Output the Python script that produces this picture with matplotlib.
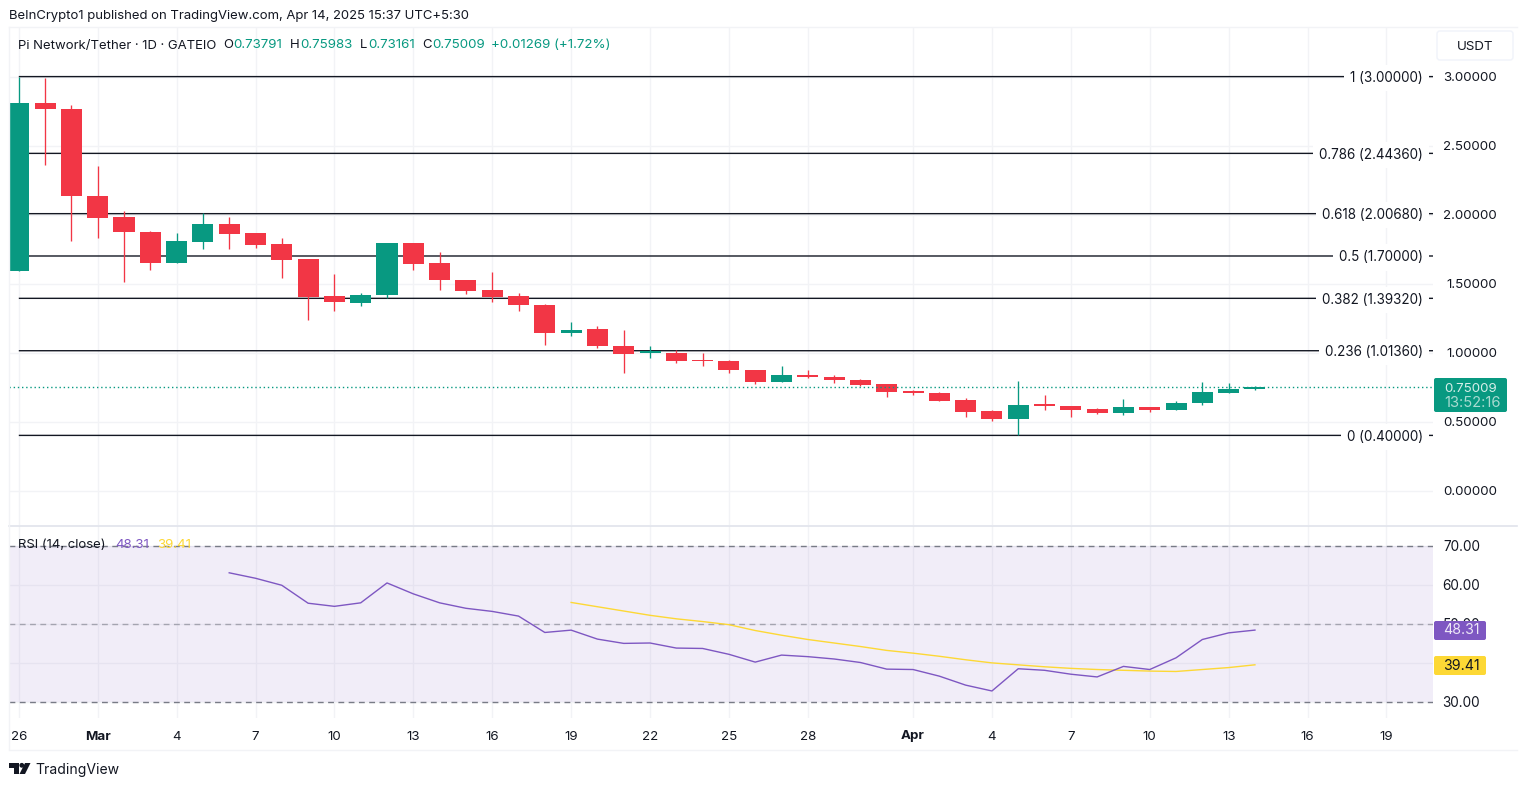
import matplotlib
matplotlib.use('Agg')
import matplotlib.pyplot as plt
from matplotlib.patches import FancyBboxPatch, Polygon, Circle

W, H = 1527, 785
GREEN = '#089981'
RED = '#F23645'
PURPLE = '#7E57C2'
YELLOW = '#FDD835'
INK = '#131722'
GRID = '#F2F3F6'

plt.rcParams['font.family'] = ['Inter', 'DejaVu Sans']

# daily candles, Feb 26 to Apr 14
opens = [1.593, 2.809, 2.765, 2.135, 1.980, 1.876, 1.651, 1.804, 1.932, 1.864, 1.785, 1.678,
         1.410, 1.359, 1.417, 1.791, 1.646, 1.526, 1.454, 1.410, 1.347, 1.140, 1.169, 1.050,
         0.997, 0.997, 0.949, 0.939, 0.874, 0.785, 0.838, 0.823, 0.801, 0.770, 0.720, 0.707,
         0.657, 0.577, 0.517, 0.625, 0.613, 0.589, 0.560, 0.606, 0.586, 0.633, 0.709, 0.73791]
highs = [3.000, 2.990, 2.794, 2.352, 2.026, 1.881, 1.864, 2.009, 1.980, 1.864, 1.828, 1.678,
         1.570, 1.432, 1.797, 1.791, 1.729, 1.526, 1.584, 1.432, 1.352, 1.220, 1.195, 1.164,
         1.048, 1.019, 0.997, 0.946, 0.874, 0.903, 0.874, 0.838, 0.809, 0.770, 0.731, 0.714,
         0.671, 0.582, 0.794, 0.693, 0.613, 0.599, 0.664, 0.606, 0.647, 0.787, 0.780, 0.75983]
lows = [1.593, 2.359, 1.811, 1.830, 1.514, 1.599, 1.651, 1.751, 1.749, 1.760, 1.543, 1.236,
        1.301, 1.338, 1.396, 1.599, 1.454, 1.425, 1.367, 1.301, 1.055, 1.122, 1.033, 0.854,
        0.961, 0.925, 0.905, 0.852, 0.772, 0.785, 0.816, 0.780, 0.756, 0.680, 0.693, 0.651,
        0.533, 0.504, 0.401, 0.586, 0.536, 0.555, 0.550, 0.572, 0.586, 0.622, 0.709, 0.73161]
closes = [2.809, 2.763, 2.135, 1.978, 1.876, 1.651, 1.809, 1.932, 1.862, 1.780, 1.673, 1.405,
          1.367, 1.417, 1.794, 1.642, 1.526, 1.446, 1.403, 1.345, 1.140, 1.166, 1.050, 0.992,
          1.009, 0.939, 0.939, 0.872, 0.787, 0.838, 0.823, 0.799, 0.765, 0.712, 0.709, 0.651,
          0.567, 0.517, 0.622, 0.613, 0.586, 0.560, 0.606, 0.586, 0.635, 0.712, 0.734, 0.75009]

# fibonacci levels
fib_ratios = ['1', '0.786', '0.618', '0.5', '0.382', '0.236', '0']
fib_prices = [3.0, 2.4436, 2.0068, 1.7, 1.3932, 1.0136, 0.4]

price_ticks = [3.0, 2.5, 2.0, 1.5, 1.0, 0.5, 0.0]

# RSI starts on Mar 6, its moving average on Mar 19
rsi_start = 8
rsi = [63.0, 61.6, 59.8, 55.2, 54.4, 55.3, 60.4, 57.6, 55.3, 53.9, 53.1, 51.9, 47.7, 48.3, 46.0,
       44.9, 45.0, 43.7, 43.6, 42.1, 40.1, 41.9, 41.5, 40.9, 40.0, 38.3, 38.2, 36.5, 34.2, 32.7,
       38.4, 38.0, 37.0, 36.3, 39.0, 38.2, 41.2, 45.9, 47.6, 48.31]
ma_start = 21
rsi_ma = [55.4, 54.3, 53.2, 52.1, 51.2, 50.5, 49.7, 48.2, 47.0, 45.9, 45.0, 44.1, 43.1, 42.4,
          41.6, 40.7, 39.9, 39.4, 38.9, 38.5, 38.2, 38.0, 37.8, 37.7, 38.2, 38.7, 39.41]

date_pos = [0, 3, 6, 9, 12, 15, 18, 21, 24, 27, 30, 34, 37, 40, 43, 46, 49, 52]
date_labels = ['26', 'Mar', '4', '7', '10', '13', '16', '19', '22', '25', '28', 'Apr', '4', '7', '10', '13', '16', '19']
rsi_ticks = [70, 60, 50, 40, 30]


def make_axes(fig, left, top, right, bottom):
    return fig.add_axes([left / W, 1 - bottom / H, (right - left) / W, (bottom - top) / H])


def fig_text(fig, x, y, s, color=INK, size=9.45, **kw):
    kw.setdefault('va', 'center')
    return fig.text(x / W, 1 - (y + 1.5) / H, s, color=color, fontsize=size, **kw)


fig = plt.figure(figsize=(W / 100, H / 100), dpi=100, facecolor='white')

ax = make_axes(fig, 9, 27, 1433, 525)
ax2 = make_axes(fig, 9, 526, 1433, 718)

# x maps bar index to pixels, 26.3 px per day with Feb 26 at px 18.8
xlim = (-0.373, 53.77)
for a in (ax, ax2):
    a.set_xlim(*xlim)
    a.set_xticks(date_pos)
    a.grid(True, axis='both', color=GRID, linewidth=1)
    a.set_axisbelow(True)
    for s in a.spines.values():
        s.set_visible(False)
    a.yaxis.tick_right()

ax.set_ylim(-0.2493, 3.3594)
ax.set_yticks(price_ticks)
ax.set_yticklabels(['%.5f' % p for p in price_ticks], ha='right')
ax.tick_params(axis='y', length=0, pad=46, labelsize=9.6, labelcolor=INK)
ax.tick_params(axis='x', length=0, labelbottom=False)

# fib lines run right up to the price axis, labels sit on a white box
for ratio, price in zip(fib_ratios, fib_prices):
    line = ax.hlines(price, 0, xlim[1], color='#131722', linewidth=1.0, zorder=2)
    line.set_snap(False)
    ax.annotate('%s (%.5f)' % (ratio, price), xy=(1, price), xycoords=('axes fraction', 'data'),
                xytext=(-7.2, -1.0), textcoords='offset points', ha='right', va='center',
                color=INK, fontsize=9.7, zorder=3,
                bbox=dict(fc='white', ec='none', pad=4.5))

# candles
for i in range(len(opens)):
    color = GREEN if closes[i] >= opens[i] else RED
    ax.vlines(i, lows[i], highs[i], color=color, linewidth=0.95, zorder=4)
    ax.bar(i, abs(closes[i] - opens[i]), bottom=min(opens[i], closes[i]), width=0.8, color=color,
           linewidth=0, zorder=5)

# last price line
ax.axhline(closes[-1], color=GREEN, linewidth=1, linestyle=(0, (1, 2)), zorder=6)

# RSI panel
ax2.set_ylim(25.77, 75.0)
ax2.set_yticks(rsi_ticks)
ax2.set_yticklabels(['%.2f' % t for t in rsi_ticks], ha='right')
ax2.tick_params(axis='y', length=0, pad=34, labelsize=9.8, labelcolor=INK)
ax2.set_xticklabels(date_labels)
ax2.tick_params(axis='x', length=0, pad=9, labelsize=9.6, labelcolor=INK)
for lab in ax2.get_xticklabels():
    if lab.get_text() in ('Mar', 'Apr'):
        lab.set_fontweight('bold')

ax2.axhspan(30, 70, color=PURPLE, alpha=0.1, linewidth=0, zorder=1)
for level in (70, 50, 30):
    ax2.axhline(level, color='#787B86', linewidth=1, dashes=(4.2, 3.2), zorder=2,
                alpha=1 if level != 50 else 0.6)

ax2.plot(range(rsi_start, rsi_start + len(rsi)), rsi, color=PURPLE, linewidth=1, zorder=4)
ax2.plot(range(ma_start, ma_start + len(rsi_ma)), rsi_ma, color=YELLOW, linewidth=1, zorder=3)

# header
fig_text(fig, 9, 14, 'BeInCrypto1 published on TradingView.com, Apr 14, 2025 15:37 UTC+5:30')
fig_text(fig, 18, 44, 'Pi Network/Tether · 1D · GATEIO')
for x, letter, vx, value in [(223, 'O', 233, '0.73791'), (290, 'H', 300, '0.75983'),
                             (360, 'L', 368, '0.73161'), (422, 'C', 432, '0.75009')]:
    fig_text(fig, x, 44, letter)
    fig_text(fig, vx, 44, value, color=GREEN, size=9.6)
fig_text(fig, 491, 44, '+0.01269 (+1.72%)', color=GREEN, size=9.6)

fig_text(fig, 18, 543, 'RSI (14, close)')
fig_text(fig, 115, 543, '48.31', color=PURPLE, size=9.6)
fig_text(fig, 157, 543, '39.41', color=YELLOW, size=9.6)

# panel borders, everything below is in figure pixels
overlay = fig.add_axes([0, 0, 1, 1], zorder=10)
overlay.set_xlim(0, W)
overlay.set_ylim(H, 0)
overlay.axis('off')
overlay.patch.set_alpha(0)
overlay.plot([9, 1517], [525.5, 525.5], color='#E0E3EB', linewidth=1.2)
overlay.plot([9, 1517], [749.5, 749.5], color=GRID, linewidth=1)
overlay.plot([9, 1517], [27, 27], color=GRID, linewidth=1)
overlay.plot([9, 9], [27, 749], color=GRID, linewidth=1)


def price_box(y0, y1, right, color):
    overlay.add_patch(FancyBboxPatch((1434 + 2, y0 + 2), right - 1434 - 4, y1 - y0 - 4,
                                     boxstyle='round,pad=2,rounding_size=2', fc=color, ec='none'))


# USDT button
overlay.add_patch(FancyBboxPatch((1439, 33), 72, 25, boxstyle='round,pad=2,rounding_size=3',
                                 fc='white', ec='#F0F3FA', linewidth=1))
overlay.text(1475, 46.5, 'USDT', color=INK, fontsize=9.6, ha='center', va='center')

# last price and RSI labels
price_box(378, 412, 1507, GREEN)
overlay.text(1497, 388.5, '0.75009', color='#D5EEE9', fontsize=9.6, ha='right', va='center')
overlay.text(1501, 403, '13:52:16', color='#A9DBD1', fontsize=10.6, ha='right', va='center')
price_box(621, 640, 1486, PURPLE)
overlay.text(1443, 630.5, '48.31', color='#EDE7F6', fontsize=10.2, ha='left', va='center')
price_box(656, 675, 1486, YELLOW)
overlay.text(1443, 666, '39.41', color=INK, fontsize=10.2, ha='left', va='center')

# TradingView logo
overlay.add_patch(Polygon([(9, 763), (19, 763), (19, 774), (14, 774), (14, 768), (9, 768)], fc=INK, ec='none'))
overlay.add_patch(Circle((21.8, 765.3), 2.4, fc=INK, ec='none'))
overlay.add_patch(Polygon([(25, 763), (30.5, 763), (25, 774), (19.5, 774)], fc=INK, ec='none'))
overlay.text(35, 770, 'TradingView', color=INK, fontsize=10.1, va='center')

plt.savefig('out.png', dpi=100)
